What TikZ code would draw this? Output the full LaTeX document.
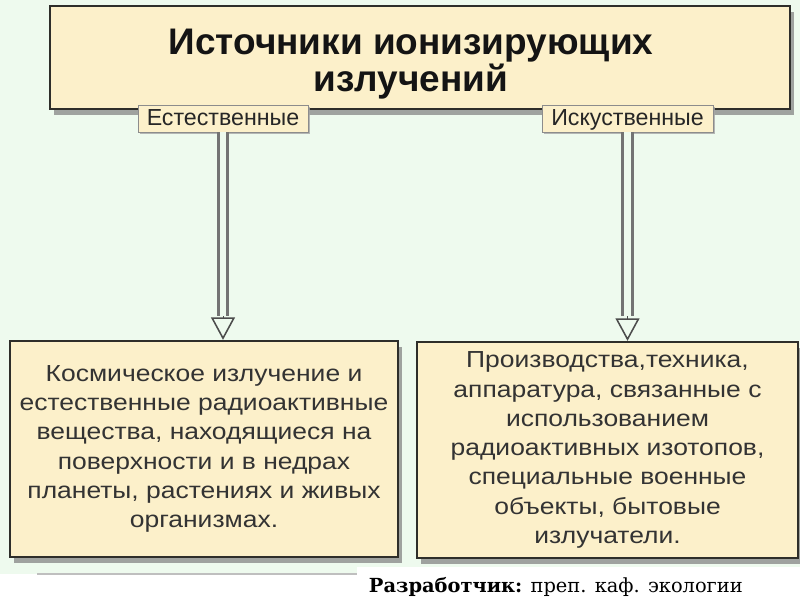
\documentclass[tikz,border=0pt]{standalone}
\usepackage{fontspec}
\setmainfont{Liberation Sans}
\newfontfamily\footfont{DejaVu Serif}
\usetikzlibrary{arrows.meta,shadows}
\definecolor{bgreen}{HTML}{EEFAEE}
\definecolor{beige}{HTML}{FCF0CA}
\definecolor{ink}{HTML}{333333}
\definecolor{rim}{HTML}{2E2E2A}
\begin{document}
\begin{tikzpicture}[x=0.025cm, y=-0.025cm,
      box/.style={draw=rim, line width=1.6pt, fill=beige, align=center,
                  inner sep=0pt, text=ink,
                  drop shadow={shadow xshift=3pt, shadow yshift=-4pt,
                               fill=black!45, opacity=0.8}},
      tag/.style={draw=black!45, line width=0.6pt, fill=beige, inner sep=0pt,
                  minimum height=0.675cm, text=black!85,
                  text height=11.5pt, text depth=1.5pt,
                  font=\fontsize{16.5}{18}\selectfont,
                  drop shadow={shadow xshift=1.2pt, shadow yshift=-1.2pt,
                               fill=black!35, opacity=0.8}},
      body/.style={font=\addfontfeatures{FakeStretch=1.14}\fontsize{16.5}{20.8}\selectfont},
      shaft/.style={draw=black!55, line width=2.2pt, double=bgreen,
                    double distance=4.5pt},
      tip/.style={-{Triangle[open, length=16pt, width=17pt, line width=1.1pt]},
                  draw=black!70, fill=bgreen}
    ]
    % Canvas
    \useasboundingbox (0,0) rectangle (800,600);
    \fill[bgreen] (0,0) rectangle (800,574);
    \draw[black!25, line width=0.8pt] (37,574) -- (357,574);
    \fill[white] (357,567) rectangle (800,600);

    % Heading
    \node[box, minimum width=18.5cm, minimum height=2.575cm] (head) at (420,57.5) {};
    \node[align=center, text=black!92, font=\bfseries\fontsize{26.3}{26.6}\selectfont]
      (headtxt) at (411,64) {Источники ионизирующих\\излучений};

    % Two kinds
    \node[tag, minimum width=4.25cm] (nat) at (223,118.5) {Естественные};
    \node[tag, minimum width=4.275cm] (art) at (627.5,118.5) {Искуственные};

    % Descriptions
    \node[box, body, minimum width=9.7cm, minimum height=5.4cm]
      (natbox) at (204,449)
      {Космическое излучение и\\естественные радиоактивные\\вещества, находящиеся на\\
       поверхности и в недрах\\планеты, растениях и живых\\организмах.};
    \node[box, body, minimum width=9.525cm, minimum height=5.4cm]
      (artbox) at (607.5,450)
      {Производства,техника,\\аппаратура, связанные с\\использованием\\
       радиоактивных изотопов,\\специальные военные\\объекты, бытовые\\излучатели.};

    % Hollow arrows
    \coordinate (natknee) at (nat.south |- 0,316);
    \coordinate (artknee) at (art.south |- 0,316);
    \draw[shaft] (nat.south) -- (natknee);
    \draw[shaft] (art.south) -- (artknee);
    \draw[tip] (natknee) -- (nat.south |- natbox.north);
    \draw[tip] (artknee) -- (art.south |- artbox.north);

    % Footer
    \node[anchor=base west, font=\footfont\fontsize{13.8}{15}\selectfont, text=black]
      (foot) at (364,592) {\textbf{Разработчик:} преп. каф. экологии};
  \end{tikzpicture}
\end{document}
